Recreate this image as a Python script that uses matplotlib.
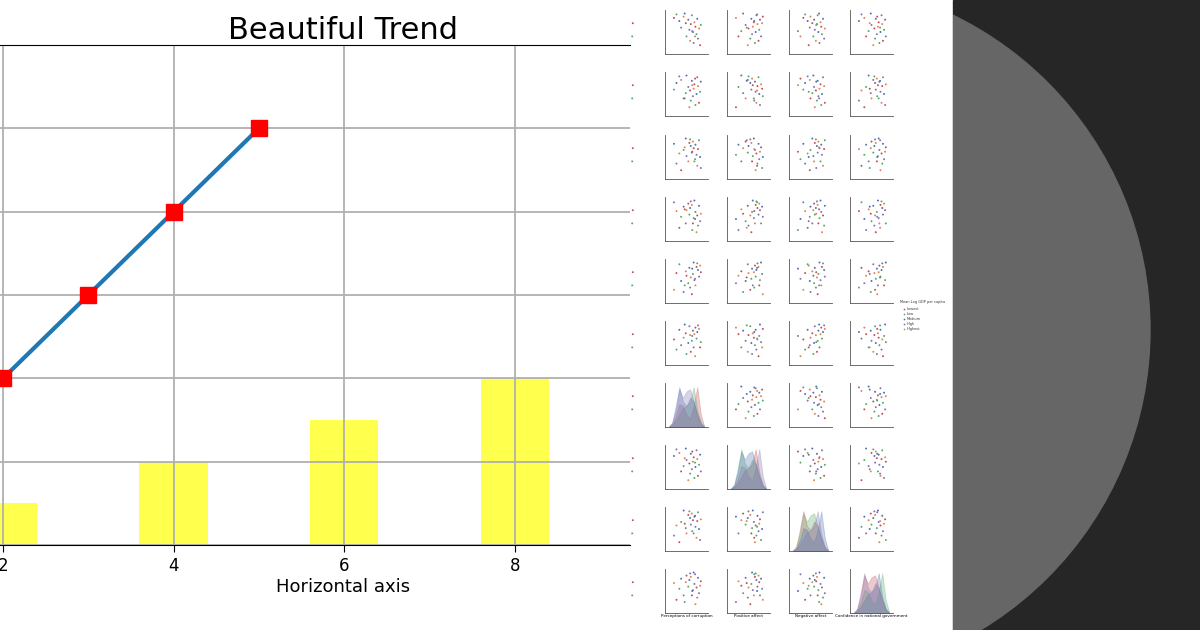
import matplotlib
matplotlib.use("Agg")
import matplotlib.pyplot as plt
from matplotlib.patches import Rectangle, Circle

# ---- main chart data ----
line_x = [1, 2, 3, 4, 5]
line_y = [2, 4, 6, 8, 10]
bar_x = [2, 4, 6, 8]
bar_h = [1, 2, 3, 4]
xticks = [2, 4, 6, 8]
title = "Beautiful Trend"
xlabel = "Horizontal axis"

# ---- pairplot thumbnail data (hand-read approximations) ----
pts_a = [0.15, 0.22, 0.3, 0.35, 0.42, 0.48, 0.5, 0.55, 0.58, 0.6, 0.62, 0.65,
         0.68, 0.7, 0.72, 0.75, 0.78, 0.8, 0.82, 0.85, 0.88, 0.9, 0.45, 0.66, 0.74]
pts_b = [0.82, 0.9, 0.75, 0.6, 0.85, 0.7, 0.4, 0.78, 0.55, 0.3, 0.68, 0.88,
         0.5, 0.25, 0.72, 0.62, 0.45, 0.8, 0.35, 0.58, 0.2, 0.66, 0.92, 0.52, 0.4]
pt_groups = [0, 1, 2, 3, 4, 0, 1, 2, 3, 4, 0, 1, 2, 3, 4, 0, 1, 2, 3, 4, 0, 1, 2, 3, 4]
group_colors = ["#c44e52", "#55a868", "#4c72b0", "#8172b2", "#dd8452"]
group_names = ["Lowest", "Low", "Medium", "High", "Highest"]
kde_x = [0.0, 0.1, 0.2, 0.3, 0.4, 0.5, 0.6, 0.7, 0.8, 0.9, 1.0]
kde_curves = [
    [0.0, 0.05, 0.25, 0.55, 0.5, 0.3, 0.2, 0.5, 0.95, 0.3, 0.0],
    [0.0, 0.05, 0.15, 0.3, 0.45, 0.5, 0.6, 0.95, 0.4, 0.1, 0.0],
    [0.0, 0.1, 0.5, 0.95, 0.6, 0.5, 0.7, 0.6, 0.3, 0.1, 0.0],
    [0.0, 0.1, 0.4, 0.9, 0.7, 0.85, 0.9, 0.6, 0.3, 0.05, 0.0],
]
diag_rows = [6, 7, 8, 9]
col_lefts = [665, 727, 789, 850]
row_tops = [10, 72, 135, 197, 259, 321, 383, 445, 507, 569]
bottom_labels = ["Perceptions of corruption", "Positive affect",
                 "Negative affect", "Confidence in national government"]

W, H = 1200, 630
fig = plt.figure(figsize=(12, 6.3), dpi=100)

# background
bg = fig.add_axes([0, 0, 1, 1])
bg.set_xlim(0, W); bg.set_ylim(H, 0); bg.axis("off")
bg.add_patch(Rectangle((630, 0), 323, H, color="white"))
bg.add_patch(Rectangle((953, 0), 247, H, color="#262626"))
circ = Circle((800, 330), 350, color="#666666")
bg.add_patch(circ)
clip = Rectangle((953, 0), 247, H, transform=bg.transData)
circ.set_clip_path(clip)

# main chart
ax = fig.add_axes([0, 85 / H, 630 / W, 500 / H])
ax.bar(bar_x, bar_h, width=0.8, color="#ffff4d", zorder=1)
ax.plot(line_x, line_y, color="#1f77b4", lw=3, marker="s", ms=12,
        mfc="red", mec="red", zorder=3)
ax.set_xlim(2 - 3 / 85.3, 2 + 627 / 85.3)
ax.set_ylim(0, 12)
ax.set_yticks([0, 2, 4, 6, 8, 10, 12])
ax.set_xticks(xticks)
ax.tick_params(axis="y", left=False, labelleft=False)
ax.tick_params(axis="x", labelsize=12, length=5)
ax.grid(True, color="#b0b0b0", lw=1.3)
ax.spines["right"].set_visible(False)
ax.spines["left"].set_visible(False)
ax.set_xlabel(xlabel, fontsize=13)
ax.xaxis.set_label_coords(343 / 630, -0.065)
ax.set_title(title, fontsize=22, x=0.545, pad=2)

# pairplot thumbnail
def px_axes(left, top, w, h):
    return fig.add_axes([left / W, 1 - (top + h) / H, w / W, h / H])

for r, top in enumerate(row_tops):
    for c, left in enumerate(col_lefts):
        a = px_axes(left, top, 43, 44)
        for s in ["top", "right"]:
            a.spines[s].set_visible(False)
        for s in ["left", "bottom"]:
            a.spines[s].set_color("#555555"); a.spines[s].set_linewidth(0.6)
        a.set_xticks([]); a.set_yticks([])
        if r in diag_rows and diag_rows.index(r) == c:
            for g in range(4):
                a.fill_between(kde_x, kde_curves[(g + c) % 4], color=group_colors[g],
                               alpha=0.3, lw=0.6)
            a.set_ylim(0, 1.05)
        else:
            k = (r * 4 + c) % 25
            xs = pts_a[k:] + pts_a[:k]
            ys = pts_b if (r + c) % 2 == 0 else pts_b[::-1]
            a.scatter(xs, ys, s=2, c=[group_colors[g] for g in pt_groups], lw=0)
            a.set_ylim(0, 1)
        a.set_xlim(-0.1, 1.1)
        if r == 9:
            a.set_xlabel(bottom_labels[c], fontsize=3, labelpad=1)
    # partial left column
    a = px_axes(631, top, 12, 44)
    a.axis("off"); a.set_xlim(0, 1); a.set_ylim(0, 1)
    a.plot([0, 0.6], [0, 0], color="#555555", lw=0.6)
    a.scatter([0.15, 0.1], [0.7, 0.4], s=2, c=group_colors[:2], lw=0)

# legend text
bg.text(900, 303, "Mean Log GDP per capita", fontsize=2.5, color="#333333")
for i, (n, col) in enumerate(zip(group_names, group_colors)):
    bg.scatter([904], [309 + i * 5], s=1.5, color=col, lw=0)
    bg.text(907, 310 + i * 5, n, fontsize=2.5, color="#333333")

fig.savefig("out.png", dpi=100)
